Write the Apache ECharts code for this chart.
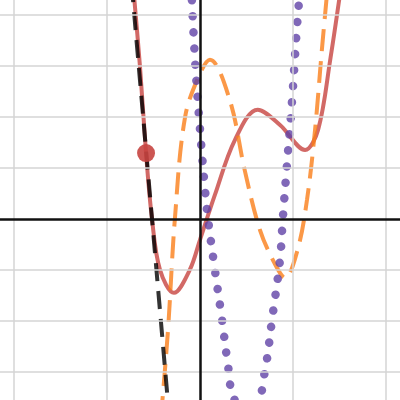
<!DOCTYPE html>
<html><head><meta charset="utf-8">
<script src="https://cdn.jsdelivr.net/npm/echarts@6/dist/echarts.min.js"></script>
<style>html,body{margin:0;padding:0;background:#fff}#c{width:400px;height:400px}</style>
</head><body><div id="c"></div>
<script>
var fPts = [[-0.72,4.6],[-0.645,2.98],[-0.58,1.29],[-0.516,0],[-0.43,-1.0],[-0.28,-1.45],[-0.11,-1.0],[0,-0.41],[0.16,0.47],[0.376,1.55],[0.62,2.14],[0.86,1.84],[1.13,1.35],[1.27,1.75],[1.40,3.12],[1.52,4.6]];
var dPts = [[-0.42,-3.9],[-0.344,-2.18],[-0.27,0],[-0.16,2.0],[0,2.85],[0.107,3.12],[0.32,2.33],[0.48,0.96],[0.645,-0.22],[0.81,-0.9],[0.914,-1.16],[1.05,-0.6],[1.15,0.37],[1.237,1.75],[1.31,3.31],[1.375,4.6]];
var ddPts = [[-0.095,4.6],[-0.054,3.12],[0,1.75],[0.054,0.57],[0.086,0],[0.16,-1.0],[0.237,-1.98],[0.30,-2.86],[0.36,-3.5],[0.56,-4.0],[0.70,-2.96],[0.774,-1.98],[0.86,-0.8],[0.89,0],[0.935,1.06],[0.99,2.33],[1.04,3.7],[1.08,4.6]];
var tangentPts = [[-0.735,4.6],[-0.33,-3.9]];
var point = [[-0.58,1.29]];
var gridX = [-2,-1,1,2];
var gridY = [-3,-2,-1,1,2,3,4];
var chart = echarts.init(document.getElementById('c'));
chart.setOption({
  animation:false,
  grid:{left:0,right:0,top:0,bottom:0},
  xAxis:{type:'value',min:-2.15,max:2.15,show:false},
  yAxis:{type:'value',min:-3.55,max:4.29,show:false},
  series:[
    {type:'line',data:[],silent:true,markLine:{symbol:'none',silent:true,label:{show:false},
      lineStyle:{color:'#d4d4d4',width:1.5,type:'solid'},
      data:gridX.map(function(v){return {xAxis:v};}).concat(gridY.map(function(v){return {yAxis:v};}))}},
    {type:'line',data:[],silent:true,markLine:{symbol:'none',silent:true,label:{show:false},
      lineStyle:{color:'#111',width:2.5,type:'solid'},data:[{xAxis:0},{yAxis:0}]}},
    {type:'line',data:fPts,smooth:0.35,showSymbol:false,lineStyle:{color:'#c74440',opacity:0.8,width:4}},
    {type:'line',data:dPts,smooth:0.35,showSymbol:false,lineStyle:{color:'#fa7e19',opacity:0.8,width:4,type:[22,10]}},
    {type:'line',data:ddPts,smooth:0.35,showSymbol:false,lineStyle:{color:'#6042a6',opacity:0.8,width:8.5,type:[0.1,16],cap:'round'}},
    {type:'line',data:tangentPts,showSymbol:false,lineStyle:{color:'#000',opacity:0.8,width:4,type:[18,10]}},
    {type:'scatter',data:point,symbolSize:18,itemStyle:{color:'#c74440',opacity:0.9},z:10}
  ]
});
</script></body></html>
